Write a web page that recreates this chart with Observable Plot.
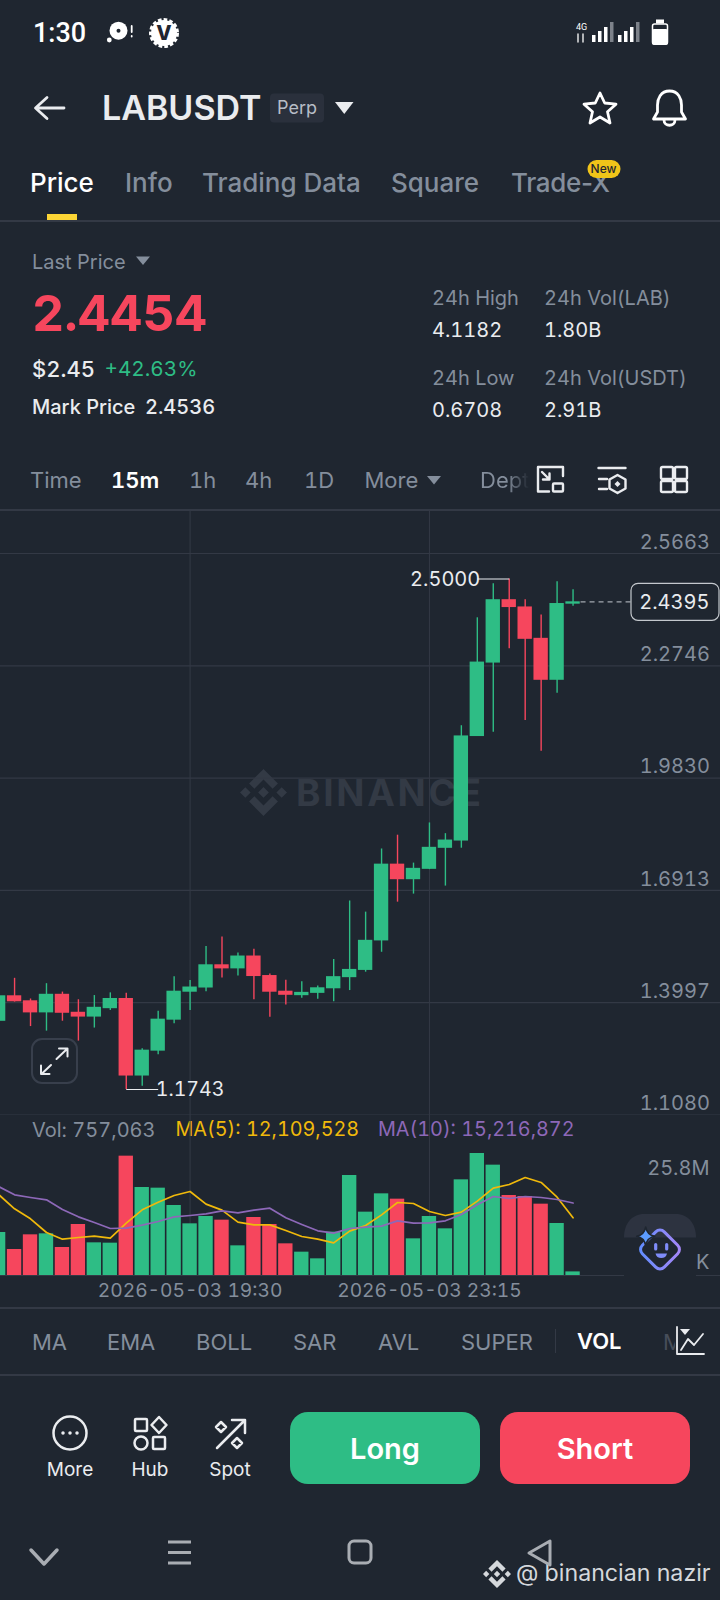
<!DOCTYPE html>
<html><head><meta charset="utf-8">
<script src="https://cdn.jsdelivr.net/npm/d3@7"></script>
<script src="https://cdn.jsdelivr.net/npm/@observablehq/plot@0.6"></script>
<style>
html,body{margin:0;padding:0;background:#1f2630;overflow:hidden}
#app{position:relative;width:720px;height:1600px;background:#1f2630;overflow:hidden;font-family:Inter,sans-serif;color:#eaecef;font-variant-numeric:tabular-nums}
.t{position:absolute;transform:translateY(-50%);white-space:nowrap;line-height:1}
.c{transform:translate(-50%,-50%)}
.g{color:#848e9c}.w{color:#eaecef}
.layer{position:absolute;left:0}
.hr{position:absolute;left:0;width:720px;height:1.5px;background:#333945}
.btn{position:absolute;top:1412px;width:190px;height:72px;border-radius:18px;color:#fff;font-size:29px;font-weight:600;display:flex;align-items:center;justify-content:center}
</style></head><body>
<div id="app">
<!-- status bar -->
<div class="t" style="left:33px;top:33px;font:500 27px Roboto;color:#fff">1:30</div>
<!-- header -->
<div class="t" style="left:102px;top:108px;font-size:34px;font-weight:600">LABUSDT</div>
<div class="t" style="left:270px;top:107.500px;width:54px;height:29px;background:#2a303c;border-radius:4px"></div>
<div class="t c" style="left:297px;top:108px;font-size:18px;color:#b7bdc6">Perp</div>
<!-- tabs -->
<div class="t" style="left:30px;top:183px;font-size:26px;font-weight:500;color:#fff">Price</div>
<div class="t g" style="left:125px;top:183px;font-size:26px;font-weight:500">Info</div>
<div class="t g" style="left:202px;top:183px;font-size:26px;font-weight:500">Trading Data</div>
<div class="t g" style="left:391px;top:183px;font-size:26px;font-weight:500">Square</div>
<div class="t g" style="left:511px;top:183px;font-size:26px;font-weight:500;font-variant-numeric:normal;letter-spacing:-0.3px">Trade-X</div>
<div class="t c" style="left:603.500px;top:169px;width:33px;height:18px;line-height:18px;border-radius:9px;background:#f0c419;color:#1f2630;font-size:12px;font-weight:500;text-align:center">New</div>
<div style="position:absolute;left:47px;top:214px;width:30px;height:6px;background:#fcd535"></div>
<div class="hr" style="top:220px"></div>
<!-- price block -->
<div class="t g" style="left:32px;top:262px;font-size:20px">Last Price</div>
<div class="t" style="left:32px;top:313px;font-size:50px;font-weight:700;color:#f6465d">2.4454</div>
<div class="t w" style="left:32px;top:369px;font-size:22px;font-weight:500">$2.45</div>
<div class="t" style="left:104.500px;top:369px;font-size:20.700px;color:#2ebd85">+42.63%</div>
<div class="t w" style="left:32px;top:407px;font-size:20px;font-weight:500">Mark Price</div>
<div class="t w" style="left:145px;top:407px;font-size:20px;font-weight:500">2.4536</div>
<div class="t g" style="left:432px;top:298px;font-size:20px">24h High</div>
<div class="t g" style="left:544px;top:298px;font-size:20px">24h Vol(LAB)</div>
<div class="t w" style="left:432px;top:330px;font-size:20px">4.1182</div>
<div class="t w" style="left:544px;top:330px;font-size:20px">1.80B</div>
<div class="t g" style="left:432px;top:378px;font-size:20px">24h Low</div>
<div class="t g" style="left:544px;top:378px;font-size:20px">24h Vol(USDT)</div>
<div class="t w" style="left:432px;top:410px;font-size:20px">0.6708</div>
<div class="t w" style="left:544px;top:410px;font-size:20px">2.91B</div>
<!-- interval row -->
<div class="t g" style="left:30px;top:480px;font-size:22px">Time</div>
<div class="t" style="left:111px;top:480px;font-size:22px;font-weight:600;color:#fff">15m</div>
<div class="t g" style="left:189px;top:480px;font-size:22px">1h</div>
<div class="t g" style="left:245px;top:480px;font-size:22px">4h</div>
<div class="t g" style="left:304px;top:480px;font-size:22px">1D</div>
<div class="t g" style="left:364.500px;top:480px;font-size:22px">More</div>
<div class="t" style="left:480px;top:480px;font-size:22px;background:linear-gradient(90deg,#848e9c 55%,#1f2630 100%);-webkit-background-clip:text;background-clip:text;color:transparent;padding:2px 0">Dept</div>
<div class="hr" style="top:509px;height:2px"></div>
<!-- watermark sits under the chart -->
<svg class="layer" style="left:240px;top:769px" width="47" height="47" viewBox="0 0 126.61 126.61"><path fill="#333a45" d="M38.73 53.2l24.59-24.58 24.6 24.6 14.3-14.31L63.32 0 24.43 38.9zM0 63.31l14.3-14.31 14.31 14.31-14.31 14.3zM38.73 73.41l24.59 24.59 24.6-24.6 14.31 14.29-38.9 38.91-38.91-38.88-.02-.02zM98 63.31l14.3-14.31 14.31 14.3-14.31 14.32zM77.83 63.3L63.32 48.78 52.59 59.51l-1.24 1.23-2.54 2.54 14.51 14.5 14.51-14.47z"/></svg>
<div class="t" style="left:296px;top:792px;font-size:37px;font-weight:700;color:#333a45;letter-spacing:2.700px">BINANCE</div>

<div id="candleChart" class="layer" style="top:510px"></div>

<!-- volume legend -->
<div class="t g" style="left:32px;top:1130px;font-size:20px">Vol: 757,063</div>
<div class="t" style="left:175.500px;top:1130px;font-size:19.800px;color:#f0b90b">MA(5): 12,109,528</div>
<div class="t" style="left:378px;top:1130px;font-size:19.800px;color:#8d68b8">MA(10): 15,216,872</div>

<div id="volumeChart" class="layer" style="top:1115px"></div>

<!-- indicator row -->
<div class="hr" style="top:1307px"></div>
<div class="t g" style="left:32px;top:1342px;font-size:22px">MA</div>
<div class="t g" style="left:107px;top:1342px;font-size:22px">EMA</div>
<div class="t g" style="left:196px;top:1342px;font-size:22px">BOLL</div>
<div class="t g" style="left:293px;top:1342px;font-size:22px">SAR</div>
<div class="t g" style="left:378px;top:1342px;font-size:22px">AVL</div>
<div class="t g" style="left:461px;top:1342px;font-size:22px">SUPER</div>
<div style="position:absolute;left:555px;top:1329px;width:1px;height:24px;background:#333945"></div>
<div class="t" style="left:577px;top:1341px;font-size:22px;font-weight:600;color:#fff">VOL</div>
<div class="t" style="left:663px;top:1342px;font-size:22px;color:#474e5a">M</div>
<div class="hr" style="top:1374px"></div>
<!-- actions -->
<div class="t c" style="left:70px;top:1469px;font-size:19px">More</div>
<div class="t c" style="left:150px;top:1469px;font-size:19px">Hub</div>
<div class="t c" style="left:230px;top:1469px;font-size:19px">Spot</div>
<div class="btn" style="left:290px;background:#2ebd85">Long</div>
<div class="btn" style="left:500px;background:#f6465d">Short</div>
<div class="t" style="left:516px;top:1574px;font-size:23.200px;color:#d5d8dc">@ binancian nazir</div>

<!-- icons -->
<svg class="layer" style="top:0" width="720" height="1600" fill="none" stroke-linecap="round" stroke-linejoin="round">
  <defs><linearGradient id="face" x1="0" y1="1" x2="1" y2="0"><stop offset="0" stop-color="#5f8dff"/><stop offset="1" stop-color="#a886f6"/></linearGradient></defs>
  <g><circle cx="118.500" cy="30.700" r="9" fill="#fff"/><circle cx="118.500" cy="30.700" r="2" fill="#1f2630"/><circle cx="109.300" cy="40" r="2.400" fill="#fff"/><path d="M131.700 26v6M131.700 36v.5" stroke="#fff" stroke-width="1.800"/></g>
  <circle cx="164" cy="33" r="13" fill="#fff" stroke="#fff" stroke-width="4" stroke-dasharray="3.500 2" stroke-linecap="butt"/>
  <text x="164" y="40" text-anchor="middle" font-family="Inter" font-weight="800" font-size="20" fill="#1f2630">V</text>
  <text x="576" y="30" font-family="Roboto" font-size="9" fill="#fff">4G</text>
  <path d="M578 34v8M583 34v8" stroke="#fff" stroke-width="1.300"/>
  <g fill="#fff"><rect x="592" y="35" width="3.500" height="7"/><rect x="598" y="31" width="3.500" height="11"/><rect x="604" y="27" width="3.500" height="15"/><rect x="618" y="35" width="3.500" height="7"/><rect x="624" y="31" width="3.500" height="11"/><rect x="630" y="27" width="3.500" height="15"/></g>
  <g fill="#7d828a"><rect x="610" y="22" width="3.500" height="20"/><rect x="636" y="22" width="3.500" height="20"/></g>
  <g><rect x="652.500" y="24" width="15" height="20" rx="2" stroke="#fff" stroke-width="1.500"/><rect x="652" y="29" width="16" height="16" rx="2" fill="#fff"/><rect x="656" y="19.500" width="8" height="4" fill="#fff"/></g>

  <path d="M64 108H36M47 97.500L35.500 108L47 118.500" stroke="#eaecef" stroke-width="2.800"/>
  <path d="M335 102h18.500l-9.250 12z" fill="#eaecef"/>
  <path d="M600 93l4.700 10 11.300 1.200-8.500 7.500 2.500 11.300-10-6-10 6 2.500-11.300-8.500-7.500 11.300-1.200z" stroke="#fff" stroke-width="2.800"/>
  <path d="M669.500 91c-9 0-12 8-12 14v7l-4 7h32l-4-7v-7c0-6-3-14-12-14zM664 120c0 7 11 7 11 0" stroke="#fff" stroke-width="2.800"/>

  <path d="M136 256.500h14l-7 8.500z" fill="#848e9c"/>
  <path d="M427 476h14l-7 8.500z" fill="#848e9c"/>

  <g stroke="#eaecef" stroke-width="2.400">
    <path d="M549 491.500H538V467H563V476"/><rect x="553" y="483.500" width="10" height="8" rx="1"/><path d="M542 472L549.500 479.500M549.500 473.500V479.500H543"/>
    <path d="M598.500 468H625.500M599 479H607M599 489H607M617.500 475l8 4.500v9l-8 4.500-8-4.500v-9z"/>
    <rect x="661" y="467" width="12" height="12" rx="1.500"/><rect x="675" y="467" width="12" height="12" rx="1.500"/><rect x="661" y="481" width="12" height="11" rx="1.500"/><rect x="675" y="481" width="12" height="11" rx="1.500"/>
  </g>
  <path d="M617.500 481l3 3-3 3-3-3z" fill="#eaecef"/>

  <rect x="32" y="1039" width="45" height="44" rx="10" stroke="#383f4c" stroke-width="2"/>
  <path d="M56.500 1059L67 1049M59 1048.500H67.500V1056.500M51 1065L41.500 1074M41 1065.500V1074H49.500" stroke="#eaecef" stroke-width="2"/>

  <rect x="624" y="1237" width="72" height="40" fill="#1f2630"/>
  <path d="M624 1237.500c0-14 8-23.500 20-23.500H676c12 0 20 9.500 20 23.500z" fill="#2d3340"/>
  <rect x="644.500" y="1234" width="31" height="31" rx="6" transform="rotate(45 660 1249.500)" stroke="url(#face)" stroke-width="3"/>
  <path d="M645.700 1227q1.500 8 9 9.300q-7.500 1.300-9 9.300q-1.500-8-9-9.300q7.500-1.300 9-9.300z" fill="#5c9cff" stroke="#1f2630" stroke-width="1.500"/>
  <path d="M655.700 1244.500v4.500M666.700 1244.500v4.500" stroke="#7f8cf8" stroke-width="3.200"/><path d="M655.500 1253.500h11.500q-1 4.500-5.750 4.500t-5.750-4.500z" fill="#7f8cf8"/>

  <rect x="675" y="1325" width="36" height="32" fill="#1f2630" stroke="none"/>
  <path d="M677 1327V1354H704M681 1350l7-11 6 6 9-11" stroke="#eaecef" stroke-width="1.800"/><path d="M680 1329h10l-5 6z" fill="#eaecef"/>

  <circle cx="70" cy="1433" r="16.500" stroke="#eaecef" stroke-width="2.500"/><path d="M63 1433h.01M70 1433h.01M77 1433h.01" stroke="#eaecef" stroke-width="3.500"/>
  <g stroke="#eaecef" stroke-width="2.500"><rect x="135" y="1419" width="12" height="12" rx="1"/><path d="M159 1417l7.500 8-7.500 8-7.500-8z"/><circle cx="141" cy="1443" r="6.500"/><rect x="153" y="1437" width="12" height="12" rx="1"/>
  <path d="M217 1448L245 1420M232 1420H245V1433M221 1422l5 5-5 5-5-5zM237 1438l5 5-5 5-5-5z"/></g>

  <path d="M31 1550l13 14 13-14" stroke="#a9adb3" stroke-width="3.500"/>
  <path d="M168 1542h23M168 1552.500h23M168 1563h23" stroke="#a9adb3" stroke-width="3.200" stroke-linecap="butt"/>
  <rect x="349" y="1541" width="22" height="22" rx="5" stroke="#a9adb3" stroke-width="3"/>
  <path d="M550 1541v24l-21-12z" stroke="#a9adb3" stroke-width="3"/>
</svg>
<svg class="layer" style="left:483px;top:1560px" width="28" height="28" viewBox="0 0 126.61 126.61"><path fill="#d5d8dc" d="M38.73 53.2l24.59-24.58 24.6 24.6 14.3-14.31L63.32 0 24.43 38.9zM0 63.31l14.3-14.31 14.31 14.31-14.31 14.3zM38.73 73.41l24.59 24.59 24.6-24.6 14.31 14.29-38.9 38.91-38.91-38.88-.02-.02zM98 63.31l14.3-14.31 14.31 14.3-14.31 14.32zM77.83 63.3L63.32 48.78 52.59 59.51l-1.24 1.23-2.54 2.54 14.51 14.5 14.51-14.47z"/></svg>
</div>

<script>
const times = [
 "2026-05-03 16:30","2026-05-03 16:45","2026-05-03 17:00","2026-05-03 17:15","2026-05-03 17:30","2026-05-03 17:45",
 "2026-05-03 18:00","2026-05-03 18:15","2026-05-03 18:30","2026-05-03 18:45","2026-05-03 19:00","2026-05-03 19:15",
 "2026-05-03 19:30","2026-05-03 19:45","2026-05-03 20:00","2026-05-03 20:15","2026-05-03 20:30","2026-05-03 20:45",
 "2026-05-03 21:00","2026-05-03 21:15","2026-05-03 21:30","2026-05-03 21:45","2026-05-03 22:00","2026-05-03 22:15",
 "2026-05-03 22:30","2026-05-03 22:45","2026-05-03 23:00","2026-05-03 23:15","2026-05-03 23:30","2026-05-03 23:45",
 "2026-05-04 00:00","2026-05-04 00:15","2026-05-04 00:30","2026-05-04 00:45","2026-05-04 01:00","2026-05-04 01:15","2026-05-04 01:30"];
const opens = [1.3526,1.4163,1.4033,1.3745,1.4202,1.3735,1.3636,1.3854,1.4093,1.2105,1.2751,1.3556,1.4282,1.4391,1.4968,1.4888,1.5196,1.4689,1.4282,1.4192,1.4252,1.4371,1.4660,1.4848,1.5614,1.7582,1.7204,1.7473,1.8019,1.8208,2.0922,2.2830,2.4450,2.4262,2.3447,2.2383,2.4360];
const closes = [1.4163,1.4033,1.3745,1.4202,1.3735,1.3636,1.3864,1.4093,1.2105,1.2751,1.3556,1.4282,1.4391,1.4968,1.4888,1.5196,1.4689,1.4282,1.4202,1.4252,1.4371,1.4660,1.4848,1.5604,1.7582,1.7204,1.7473,1.8019,1.8208,2.0912,2.2830,2.4450,2.4272,2.3447,2.2383,2.4351,2.4395];
const highs = [1.4300,1.4630,1.4093,1.4491,1.4272,1.4073,1.4182,1.4252,1.4242,1.2801,1.3775,1.4670,1.4570,1.5455,1.5703,1.5286,1.5385,1.4739,1.4580,1.4540,1.4431,1.5117,1.6638,1.6349,1.7989,1.8347,1.7622,1.8665,1.8387,2.1190,2.3993,2.4878,2.5000,2.4460,2.4063,2.4928,2.4719];
const lows = [1.3400,1.4013,1.3377,1.3258,1.3516,1.3000,1.3338,1.3795,1.1743,1.1827,1.2642,1.3447,1.3795,1.4282,1.4640,1.4689,1.4073,1.3616,1.3934,1.4113,1.4083,1.4023,1.4312,1.4789,1.5306,1.6608,1.6817,1.7453,1.7025,1.8009,2.0922,2.1021,2.3188,2.1329,2.0524,2.2035,2.4291];
const volumes = [9.03,5.46,8.54,8.75,5.88,10.71,6.86,6.79,25.06,18.48,18.34,14.70,10.85,12.39,11.62,6.23,12.18,10.71,6.65,4.90,3.50,9.10,21.00,13.30,17.15,16.03,7.70,12.39,9.80,20.09,25.62,23.17,16.80,16.59,14.98,10.92,0.757063];
const ma5 = [17.01,14.00,11.90,9.03,7.63,7.98,8.26,7.84,10.99,13.79,15.40,16.80,17.64,14.98,13.72,11.20,10.64,10.64,9.45,8.19,7.63,6.86,9.31,10.50,12.74,15.33,15.12,13.44,12.60,13.30,15.61,18.34,19.11,20.58,19.53,16.45,12.109528];
const ma10 = [18.69,16.94,16.38,15.89,13.86,12.32,11.13,9.87,9.94,10.57,11.34,12.32,12.60,12.95,13.58,13.16,13.72,14.14,12.11,10.71,9.38,8.89,9.87,10.15,10.36,11.48,10.99,11.06,11.48,12.81,14.84,16.59,16.17,16.59,16.38,15.96,15.216872];
const priceTicks = [2.5663,2.2746,1.9830,1.6913,1.3997,1.1080];
const gridTimes = ["2026-05-03 19:30","2026-05-03 23:15"];
const volumeTop = 25.8;
const lastPrice = 2.4395;
const highMark = {t:"2026-05-04 00:30", to:"2026-05-04 00:00", price:2.5000};
const lowMark = {t:"2026-05-03 18:30", to:"2026-05-03 19:00", price:1.1743};

const GREEN="#2ebd85", RED="#f6465d", GRID="#333945", MUTED="#848e9c";
const candles = times.map((t,i)=>({t,open:opens[i],close:closes[i],high:highs[i],low:lows[i],vol:volumes[i],ma5:ma5[i],ma10:ma10[i],color:closes[i]>=opens[i]?GREEN:RED}));
const xScale = {type:"band",domain:times,range:[-10.67,581.33],padding:0.1,round:false,axis:null};
const baseStyle = {background:"transparent",fontFamily:"Inter, sans-serif",overflow:"hidden"};
const fmt = d=>d.toFixed(4);

function priceTag(index,{x,y}){
  const py=y(lastPrice), g=d3.create("svg:g");
  g.append("line").attr("x1",x(times[times.length-1])+x.bandwidth()/2+8).attr("x2",631).attr("y1",py).attr("y2",py)
    .attr("stroke","#a3a8af").attr("stroke-width",1.3).attr("stroke-dasharray","5 4");
  g.append("rect").attr("x",631).attr("y",py-18.500).attr("width",88).attr("height",37).attr("rx",7)
    .attr("fill","#1f2630").attr("stroke","#c4c8cd").attr("stroke-width",1.2);
  return g.node();
}

const candleChart = Plot.plot({
  width:720,height:605,margin:0,style:baseStyle,
  x:xScale,
  y:{domain:[1.1080,2.5663],range:[604.5,43],axis:null},
  marks:[
    Plot.gridX(gridTimes,{stroke:GRID,strokeOpacity:1}),
    Plot.gridY(priceTicks,{stroke:GRID,strokeOpacity:1,strokeWidth:1.2}),
    Plot.axisY(priceTicks,{anchor:"right",tickSize:0,tickPadding:0,tickFormat:fmt,textAnchor:"end",dx:-10.5,dy:-11,fontSize:20,color:MUTED,label:null}),
    Plot.ruleX(candles,{x:"t",y1:"low",y2:"high",stroke:"color",strokeWidth:1.4}),
    Plot.barY(candles,{x:"t",y1:"open",y2:"close",fill:"color",insetTop:-0.5,insetBottom:-0.5}),
    Plot.link([highMark],{x1:"t",x2:"to",y1:"price",y2:"price",stroke:"#eaecef",strokeWidth:1.1}),
    Plot.text([highMark],{x:"to",y:"price",text:d=>fmt(d.price),textAnchor:"end",dx:3,dy:1,fill:"#eaecef",fontSize:20}),
    Plot.link([lowMark],{x1:"t",x2:"to",y1:"price",y2:"price",stroke:"#eaecef",strokeWidth:1.1}),
    Plot.text([lowMark],{x:"to",y:"price",text:d=>fmt(d.price),textAnchor:"start",dx:-2.5,dy:0,fill:"#eaecef",fontSize:19.6}),
    priceTag,
    Plot.text([lastPrice],{y:d=>d,text:fmt,frameAnchor:"right",textAnchor:"end",dx:-11,fill:"#eaecef",fontSize:20})
  ]
});
document.getElementById("candleChart").append(candleChart);

const volumeChart = Plot.plot({
  width:720,height:192,marginTop:0,marginLeft:0,marginRight:0,marginBottom:32,style:baseStyle,
  x:xScale,
  y:{domain:[0,volumeTop],range:[160,37.14],axis:null},
  marks:[
    Plot.gridX(gridTimes,{stroke:GRID,strokeOpacity:1}),
    Plot.ruleY([0],{stroke:GRID,strokeWidth:1.2}),
    Plot.barY(candles,{x:"t",y:"vol",fill:"color"}),
    Plot.line(candles,{x:"t",y:"ma5",stroke:"#f0b90b",strokeWidth:1.7}),
    Plot.line(candles,{x:"t",y:"ma10",stroke:"#8d68b8",strokeWidth:1.7}),
    Plot.axisY([volumeTop],{anchor:"right",tickSize:0,tickPadding:0,tickFormat:d=>d+"M",textAnchor:"end",dx:-11,dy:16,fontSize:20,color:MUTED,label:null}),
    Plot.axisY([0],{anchor:"right",tickSize:0,tickPadding:0,tickFormat:()=>"K",textAnchor:"end",dx:-11,dy:-13,fontSize:20,color:MUTED,label:null}),
    Plot.axisX(gridTimes,{anchor:"bottom",tickSize:0,tickPadding:8,fontSize:19.2,color:MUTED,label:null})
  ]
});
document.getElementById("volumeChart").append(volumeChart);
</script>
</body></html>
